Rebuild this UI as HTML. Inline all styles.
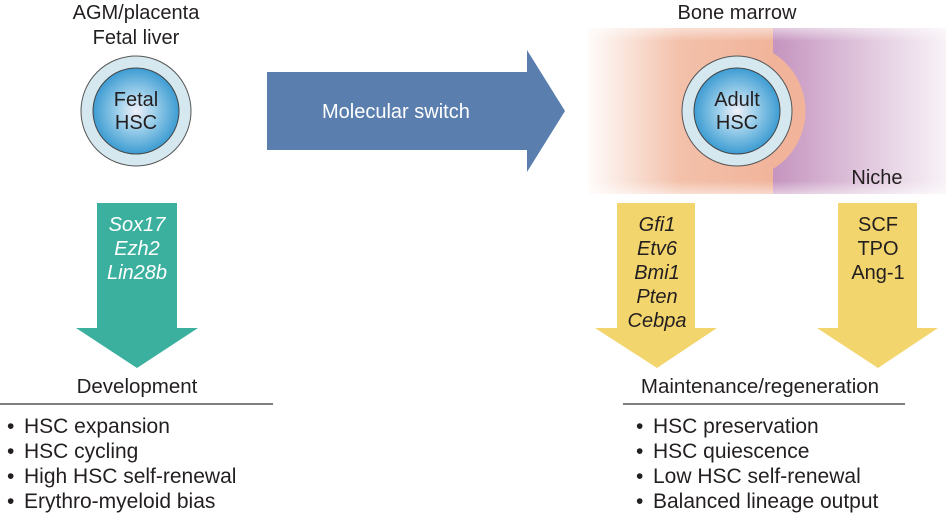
<!DOCTYPE html>
<html><head><meta charset="utf-8"><style>
html,body{margin:0;padding:0;background:#fff;}
svg{display:block;}
text{font-family:"Liberation Sans",Arial,sans-serif;fill:#231f20;}
</style></head><body>
<svg width="946" height="513" viewBox="0 0 946 513" xmlns="http://www.w3.org/2000/svg">
<defs>
<linearGradient id="peach" x1="0" x2="1" y1="0" y2="0">
<stop offset="0" stop-color="#f2b9a0" stop-opacity="0.05"/>
<stop offset="0.5" stop-color="#f2b9a0" stop-opacity="0.9"/>
<stop offset="1" stop-color="#f1b49b"/>
</linearGradient>
<linearGradient id="purple" x1="0" x2="1" y1="0" y2="0">
<stop offset="0" stop-color="#c594bf"/>
<stop offset="1" stop-color="#c594bf" stop-opacity="0.12"/>
</linearGradient>
<linearGradient id="vfade" x1="0" x2="0" y1="0" y2="1">
<stop offset="0" stop-color="#fff" stop-opacity="0.5"/>
<stop offset="0.08" stop-color="#fff" stop-opacity="0"/>
<stop offset="0.92" stop-color="#fff" stop-opacity="0"/>
<stop offset="1" stop-color="#fff" stop-opacity="0.5"/>
</linearGradient>
<radialGradient id="core" cx="0.5" cy="0.5" r="0.5">
<stop offset="0" stop-color="#f0f0f8"/>
<stop offset="0.4" stop-color="#a3d2ec"/>
<stop offset="1" stop-color="#3d9cd2"/>
</radialGradient>
</defs>

<!-- Left titles -->
<text x="136" y="19" font-size="20" text-anchor="middle">AGM/placenta</text>
<text x="136" y="44" font-size="20" text-anchor="middle">Fetal liver</text>

<!-- Fetal HSC -->
<circle cx="136" cy="111" r="55" fill="#d6e8ef" stroke="#555" stroke-width="1"/>
<circle cx="136" cy="111" r="43" fill="url(#core)" stroke="#444" stroke-width="1"/>
<text x="136" y="106" font-size="20" text-anchor="middle">Fetal</text>
<text x="136" y="129" font-size="20" text-anchor="middle">HSC</text>

<!-- Molecular switch arrow -->
<polygon points="267,72 527,72 527,50 565,111 527,172 527,150 267,150" fill="#5a7fae"/>
<text x="322" y="118" font-size="20" style="fill:#fff">Molecular switch</text>

<!-- Bone marrow -->
<text x="737" y="19" font-size="20" text-anchor="middle">Bone marrow</text>
<rect x="588" y="28" width="185" height="166" fill="url(#peach)"/>
<rect x="773" y="28" width="173" height="166" fill="url(#purple)"/>
<path d="M773,53 A68,68 0 0 1 773,169 Z" fill="#f1b49b"/>
<rect x="588" y="28" width="358" height="166" fill="url(#vfade)"/>
<circle cx="737" cy="111" r="55" fill="#d6e8ef" stroke="#555" stroke-width="1"/>
<circle cx="737" cy="111" r="43" fill="url(#core)" stroke="#444" stroke-width="1"/>
<text x="737" y="106" font-size="20" text-anchor="middle">Adult</text>
<text x="737" y="129" font-size="20" text-anchor="middle">HSC</text>
<text x="877" y="184" font-size="20" text-anchor="middle">Niche</text>

<!-- Teal arrow -->
<polygon points="97,203 177,203 177,328 198,328 137,368 76,328 97,328" fill="#3cb09e"/>
<text x="137" y="231" font-size="20" text-anchor="middle" font-style="italic" style="fill:#fff">Sox17</text>
<text x="137" y="255" font-size="20" text-anchor="middle" font-style="italic" style="fill:#fff">Ezh2</text>
<text x="137" y="279" font-size="20" text-anchor="middle" font-style="italic" style="fill:#fff">Lin28b</text>

<!-- Yellow arrows -->
<polygon points="617,203 695,203 695,328 717,328 657,368 595,328 617,328" fill="#f2d56c"/>
<polygon points="838,203 917,203 917,328 938,328 878,368 817,328 838,328" fill="#f2d56c"/>
<text x="657" y="231" font-size="20" text-anchor="middle" font-style="italic">Gfi1</text>
<text x="657" y="255" font-size="20" text-anchor="middle" font-style="italic">Etv6</text>
<text x="657" y="279" font-size="20" text-anchor="middle" font-style="italic">Bmi1</text>
<text x="657" y="303" font-size="20" text-anchor="middle" font-style="italic">Pten</text>
<text x="657" y="327" font-size="20" text-anchor="middle" font-style="italic">Cebpa</text>
<text x="878" y="231" font-size="20" text-anchor="middle">SCF</text>
<text x="878" y="255" font-size="20" text-anchor="middle">TPO</text>
<text x="878" y="279" font-size="20" text-anchor="middle">Ang-1</text>

<!-- Development -->
<text x="137" y="393" font-size="20.5" text-anchor="middle">Development</text>
<line x1="0" y1="404" x2="273" y2="404" stroke="#333" stroke-width="1.2"/>
<g font-size="21">
<text x="7" y="433">•</text><text x="24" y="433">HSC expansion</text>
<text x="7" y="458">•</text><text x="24" y="458">HSC cycling</text>
<text x="7" y="483">•</text><text x="24" y="483">High HSC self-renewal</text>
<text x="7" y="508">•</text><text x="24" y="508">Erythro-myeloid bias</text>
</g>

<!-- Maintenance -->
<text x="760" y="393" font-size="20.5" text-anchor="middle">Maintenance/regeneration</text>
<line x1="623" y1="404" x2="905" y2="404" stroke="#333" stroke-width="1.2"/>
<g font-size="21">
<text x="636" y="433">•</text><text x="653" y="433">HSC preservation</text>
<text x="636" y="458">•</text><text x="653" y="458">HSC quiescence</text>
<text x="636" y="483">•</text><text x="653" y="483">Low HSC self-renewal</text>
<text x="636" y="508">•</text><text x="653" y="508">Balanced lineage output</text>
</g>
</svg>
</body></html>
